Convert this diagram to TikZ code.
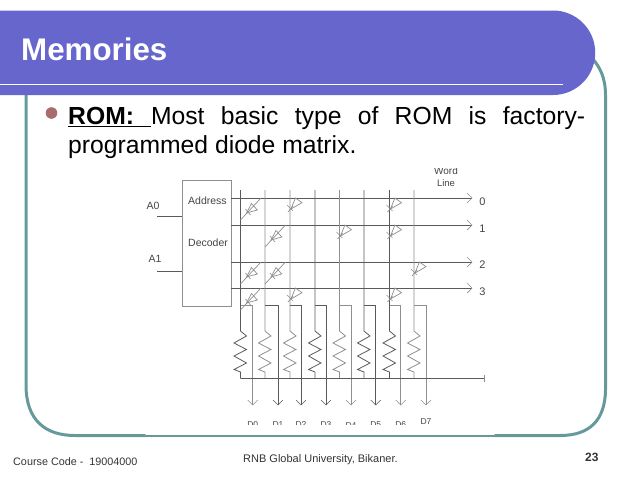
\documentclass[tikz,border=0pt]{standalone}
\usepackage{fontspec}
\setmainfont{Liberation Sans}
\definecolor{banner}{HTML}{6666CC}
\definecolor{frameteal}{HTML}{669999}
\definecolor{bulletc}{HTML}{A86C6C}
\definecolor{wire}{HTML}{5A5A5A}
\definecolor{wirelight}{HTML}{8F8F8F}
\definecolor{labelc}{HTML}{444444}
\tikzset{
  wordline/.style={draw=wire,line width=0.8pt},
  ohead/.style={line width=0.6pt},
  dio/.style={draw=wirelight,line width=0.7pt},
  lab/.style={font=\fontsize{10.5}{12}\selectfont,text=labelc,inner sep=0pt},
  foot/.style={font=\fontsize{11}{13}\selectfont,text=black!80,inner sep=0pt},
}
\newcommand{\longdiode}[2]{%
  \draw[dio] (#1,#2+22) -- (#1+20.5,#2);
  \draw[dio] (#1+6,#2+15) -- (#1+11,#2+5.5) -- (#1+16.8,#2+12) -- cycle;
  \draw[dio] (#1+5,#2+11) -- (#1+10,#2+17);
}
\newcommand{\shortdiode}[2]{%
  \draw[dio] (#1+1,#2+11) -- (#1+5.4,#2) -- (#1+12,#2+4.7) -- cycle;
  \draw[dio] (#1-3,#2+7) -- (#1+3,#2+13);
  \draw[dio] (#1-2,#2+14) -- (#1+3,#2+8);
}
\begin{document}
\begin{tikzpicture}[x=1pt,y=-1pt]
\useasboundingbox (0,0) rectangle (638,479);
% frame
\draw[frameteal,line width=3pt,line cap=round]
  (26,90) -- (26,385) .. controls (26,420) and (45,435.5) .. (75,435.5)
  -- (145,435.5);
\draw[frameteal,line width=1.5pt] (145,436.2) -- (495,436.2);
\draw[frameteal,line width=3pt,line cap=round]
  (495,435.5) -- (560,435.5) .. controls (590,435.5) and (605,420) .. (605.5,390)
  -- (605.5,95) .. controls (605.5,78) and (600,67) .. (592,58);
% banner
\fill[banner] (0,10.5) -- (553,10.5) .. controls (576.3,10.5) and (595.25,29.4) .. (595.25,52.75)
  .. controls (595.25,76.1) and (576.3,95) .. (553,95) -- (0,95) -- cycle;
\draw[white,line width=1.6pt] (0,84.5) -- (563,84.5);
\node[anchor=base west,inner sep=0pt,text=white,font=\fontsize{31.3}{33}\selectfont\bfseries] (title) at (21,60.5) {Memories};
% body
\fill[bulletc] (51.5,113) circle (5.8);
\node[anchor=base west,inner sep=0pt,font=\fontsize{24.7}{27}\selectfont] (l1) at (68,124.5)
  {\makebox[517pt][s]{\underline{\textbf{ROM:}\hspace{17pt}}Most basic type of ROM is factory-}};
\node[anchor=base west,inner sep=0pt,font=\fontsize{24.7}{27}\selectfont] (l2) at (68,153) {programmed diode matrix.};
% decoder
\node[draw=wirelight,line width=0.8pt,minimum width=49pt,minimum height=125.5pt,inner sep=0pt] (dec) at (206.5,243.25) {};
\node[lab,anchor=west] (addr) at (188,201) {Address};
\node[lab,anchor=west] (deco) at (188,243) {Decoder};
\node[lab] (a0) at (153,206) {A0};
\node[lab] (a1) at (155,259) {A1};
\coordinate (a0s) at (157,216);
\coordinate (a1s) at (157,271);
\draw[wordline] (a0s) -- (a0s-|dec.west);
\draw[wordline] (a1s) -- (a1s-|dec.west);
% word lines
\foreach \y/\n/\ly in {198/0/202,225/1/229,262/2/265,288/3/292}{
  \coordinate (wend\n) at (472,\y);
  \draw[wordline] (wend\n-|dec.east) -- (wend\n);
  \draw[wirelight,line width=0.7pt] (467,\y-5) -- (472,\y) -- (467,\y+5);
  \node[lab,font=\fontsize{11}{12}\selectfont] (wl\n) at (482.5,\ly) {\n};
}
\node[lab,font=\fontsize{10}{11}\selectfont] (word) at (446,171) {Word};
\node[lab,font=\fontsize{9.5}{11}\selectfont] (line) at (446,183.5) {Line};
% bit lines, resistors, outputs
\coordinate (gnd) at (484,378.5);
\foreach \x/\ox/\nm/\bc/\oc/\ly in {240.5/252.7/0/wire/wirelight/424.2,265/278/1/wirelight/wire/424.2,290/301/2/wirelight/wire/424.2,315/326/3/wire/wire/424.2,339.5/351/4/wirelight/wirelight/425.8,364/375.7/5/wire/wire/424.2,389.5/400.7/6/wire/wirelight/424.2,414/426/7/wirelight/wirelight/421.3}{
  \coordinate (btop\nm) at (\x,190);
  \coordinate (bbot\nm) at (\x,378.5);
  \draw[draw=\bc,line width=0.8pt] (btop\nm) -- (\x,331) -- (\x+6,336) -- (\x-6.5,343) -- (\x+6,349.5) -- (\x-6.5,356) -- (\x+6,363) -- (\x-6.5,369.5) -- (\x,372) -- (bbot\nm);
  \draw[draw=\oc,line width=0.8pt] (\x,305.5) -- (\ox,305.5) -- (\ox,405);
  \draw[ohead,draw=\oc] (\ox-5,400) -- (\ox,405) -- (\ox+5,400);
  \node[lab,font=\fontsize{8.5}{10}\selectfont] (dl\nm) at (\ox,\ly) {D\nm};
}
\draw[wordline] (bbot0) -- (gnd);
\draw[wirelight,line width=0.6pt] (484,375) -- (484,382);
% diodes
\longdiode{240.5}{198}
\longdiode{265}{225}
\longdiode{240.5}{262}
\longdiode{265}{262}
\longdiode{240.5}{288}
\shortdiode{290}{198}
\shortdiode{389.5}{198}
\shortdiode{339.5}{225}
\shortdiode{389.5}{225}
\shortdiode{414}{262}
\shortdiode{290}{288}
\shortdiode{389.5}{288}
% paste-edge masks
\fill[white] (425,150) rectangle (470,168);
\fill[white] (240,424.5) rectangle (440,433);
% footer
\node[foot,anchor=base west,font=\fontsize{10.8}{13}\selectfont] (cc) at (13,465) {Course Code -\ \ 19004000};
\node[foot,anchor=base west] (rnb) at (243,462) {RNB Global University, Bikaner.};
\node[foot,anchor=base west,font=\fontsize{12}{13}\selectfont\bfseries] (pg) at (585,461) {23};
\end{tikzpicture}
\end{document}
